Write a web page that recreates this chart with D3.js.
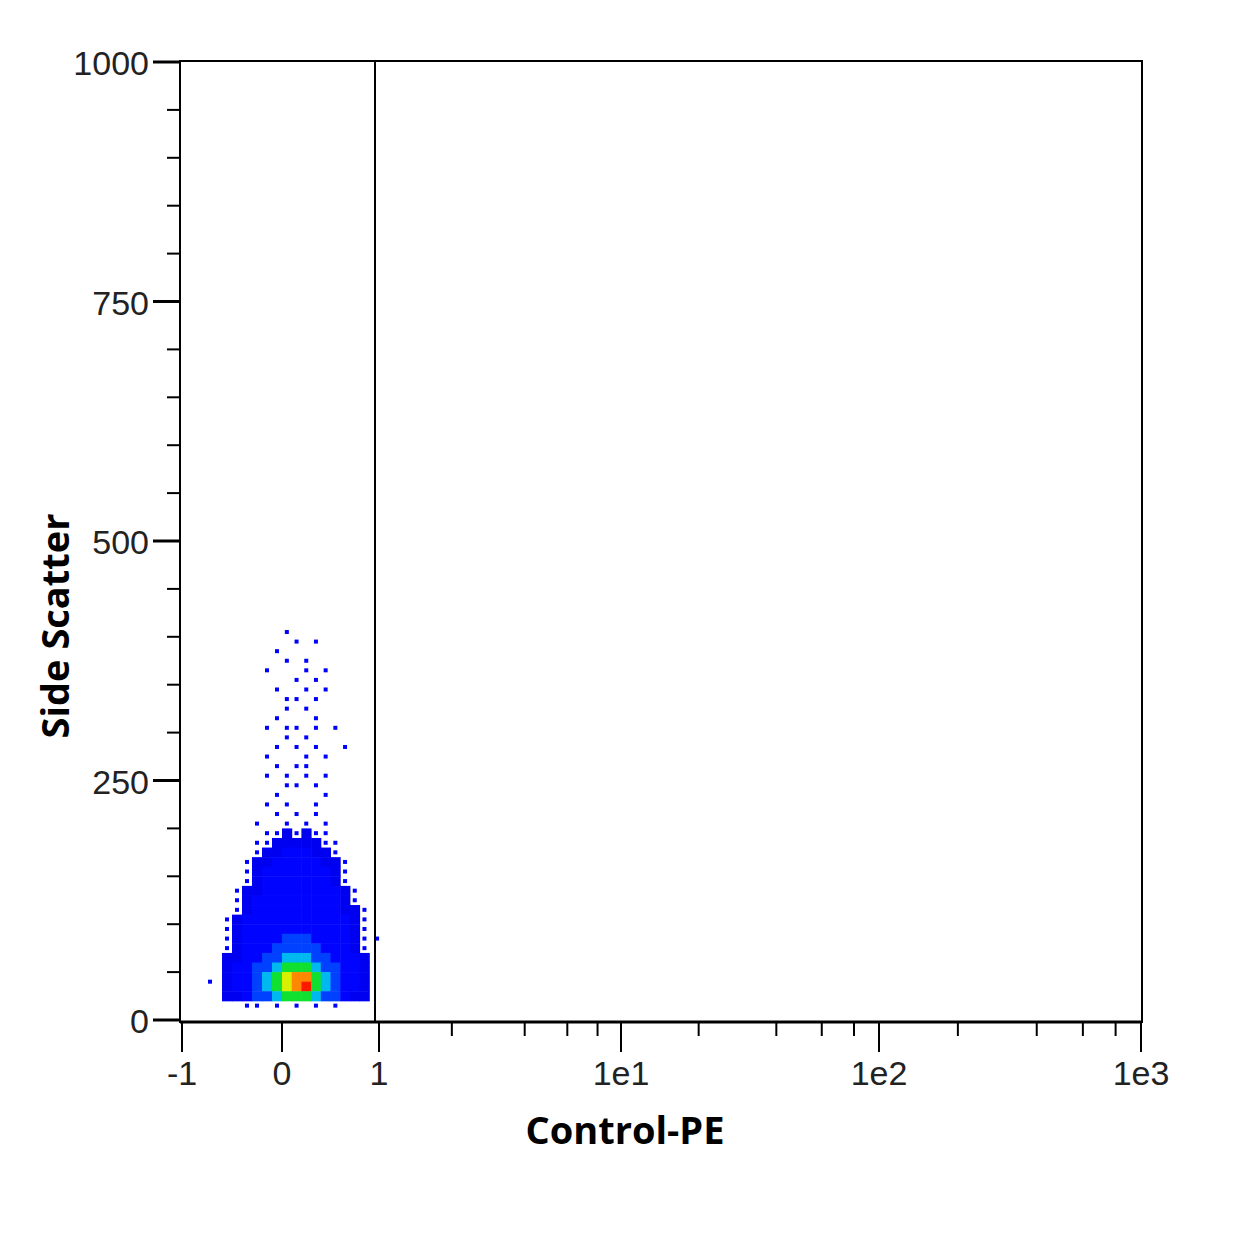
<!DOCTYPE html>
<html><head><meta charset="utf-8">
<script src="https://cdn.jsdelivr.net/npm/d3@7"></script>
<style>body{margin:0;background:#fff}</style>
</head><body><div id="container"></div>
<script>
// density grid: x bins of 0.1 from -0.6, y bins of 10 from the top row down
let xBinStart = -0.6, xBinWidth = 0.1;
let yBinStarts = [400,390,380,370,360,350,340,330,320,310,300,290,280,270,260,250,240,230,220,210,200,
                  190,180,170,160,150,140,130,120,110,100,90,80,70,60,50,40,30,20,10];
let densityRows = [
  "000000100000000","000000010100000","000001000000000","000000101000000","000010001010000",
  "000000010100000","000001001010000","000000110100000","000000101000000","000001000100000",
  "000010110101000","000000101000000","000001010100100","000010001010000","000001011000000",
  "000010101010000","000000110100000","000001000010000","000010100100000","000001010100000",
  "000100101010000","000011212110000","000112222211000","000122333221000","001223333322100",
  "001233333332100","001233333332100","012233333333210","012333333333210","012333333333221",
  "123333333333321","123333333333321","123333444333321","123334444433321","223344555443332",
  "233445666544332","233456788654332","233456789654332","223445666544322","001101010101000"
];
let outliers = [[0.98, 85], [-0.72, 40]];
let levelColors = ["none","#0000ff","#0000f0","#0004ff","#0040ff","#00b8f0","#10e030","#d8f000","#ff8800","#ff1800"];

let xMajor = [-1, 0, 1, 10, 100, 1000];
let xMajorLabels = ["-1", "0", "1", "1e1", "1e2", "1e3"];
let xMinor = [2, 4, 6, 8, 20, 40, 60, 80, 200, 400, 600, 800];
let yMajor = [0, 250, 500, 750, 1000];
let yMinor = d3.range(0, 1001, 50);

let w = 1250, h = 1250;
let pLeft = 180, pRight = 1142, pTop = 61, pBottom = 1022;

function T(v) { return v <= 1 ? v : 1 + Math.log10(v) * 2.5; }
let xs = d3.scaleLinear().domain(xMajor.map(T)).range([182, 282, 379, 621, 879, 1141]);
let x = v => xs(T(v));
let y = d3.scaleLinear().domain([0, 1000]).range([1020, 62]);

let viz = d3.select('#container').append("svg")
  .attr("width", w).attr("height", h)
  .style("background-color", "#ffffff");

// density cells
let cells = [];
densityRows.forEach((row, r) => {
  row.split("").forEach((c, i) => {
    let lv = +c;
    if (lv > 0) cells.push({x0: xBinStart + i * xBinWidth, y0: yBinStarts[r], lv: lv});
  });
});
viz.selectAll(".cell").data(cells.filter(d => d.lv >= 2)).enter().append("rect")
  .attr("x", d => x(d.x0))
  .attr("y", d => y(d.y0 + 10))
  .attr("width", d => x(d.x0 + xBinWidth) - x(d.x0) + 0.5)
  .attr("height", d => y(d.y0) - y(d.y0 + 10) + 0.5)
  .attr("fill", d => levelColors[d.lv]);
viz.selectAll(".dot").data(cells.filter(d => d.lv == 1)).enter().append("rect")
  .attr("x", d => x(d.x0 + xBinWidth / 2) - 2)
  .attr("y", d => y(d.y0 + 5) - 2)
  .attr("width", 4).attr("height", 4)
  .attr("fill", levelColors[1]);
viz.selectAll(".out").data(outliers).enter().append("rect")
  .attr("x", d => x(d[0]) - 2).attr("y", d => y(d[1]) - 2)
  .attr("width", 4).attr("height", 4).attr("fill", "#0000ff");

// frame
viz.append("rect").attr("x", pLeft).attr("y", pTop).attr("width", pRight - pLeft).attr("height", pBottom - pTop)
  .attr("fill", "none").attr("stroke", "black").attr("stroke-width", 2);
viz.append("line").attr("x1", pLeft).attr("x2", pRight).attr("y1", pBottom).attr("y2", pBottom)
  .attr("stroke", "black").attr("stroke-width", 3);
// gate
viz.append("line").attr("x1", 375).attr("x2", 375).attr("y1", pTop).attr("y2", pBottom)
  .attr("stroke", "black").attr("stroke-width", 2);

// x ticks
viz.selectAll(".xmaj").data(xMajor).enter().append("line")
  .attr("x1", d => x(d)).attr("x2", d => x(d)).attr("y1", pBottom).attr("y2", 1052)
  .attr("stroke", "black").attr("stroke-width", 2);
viz.selectAll(".xmin").data(xMinor).enter().append("line")
  .attr("x1", d => x(d)).attr("x2", d => x(d)).attr("y1", pBottom).attr("y2", 1036)
  .attr("stroke", "black").attr("stroke-width", 2);
viz.selectAll(".xlab").data(xMajor).enter().append("text")
  .attr("x", d => x(d)).attr("y", 1085)
  .attr("text-anchor", "middle")
  .style("font-family", "'Liberation Sans Narrow', 'Liberation Sans', sans-serif").style("font-size", "34px")
  .attr("fill", "#222")
  .text((d, i) => xMajorLabels[i]);

// y ticks
viz.selectAll(".ymin").data(yMinor).enter().append("line")
  .attr("x1", 167).attr("x2", pLeft).attr("y1", d => y(d)).attr("y2", d => y(d))
  .attr("stroke", "black").attr("stroke-width", 2);
viz.selectAll(".ymaj").data(yMajor).enter().append("line")
  .attr("x1", 153).attr("x2", pLeft).attr("y1", d => y(d)).attr("y2", d => y(d))
  .attr("stroke", "black").attr("stroke-width", 3);
viz.selectAll(".ylab").data(yMajor).enter().append("text")
  .attr("x", 149).attr("y", d => y(d) + 13)
  .attr("text-anchor", "end")
  .style("font-family", "'Liberation Sans Narrow', 'Liberation Sans', sans-serif").style("font-size", "34px")
  .attr("fill", "#222")
  .text(d => d);

// titles
viz.append("text").attr("x", 625).attr("y", 1144).attr("text-anchor", "middle")
  .style("font-family", "'Open Sans', sans-serif").style("font-size", "38px").style("font-weight", "bold")
  .text("Control-PE");
viz.append("text").attr("transform", "translate(69,626) rotate(-90)").attr("text-anchor", "middle")
  .style("font-family", "'Open Sans', sans-serif").style("font-size", "38px").style("font-weight", "bold")
  .text("Side Scatter");
</script>
</body></html>
